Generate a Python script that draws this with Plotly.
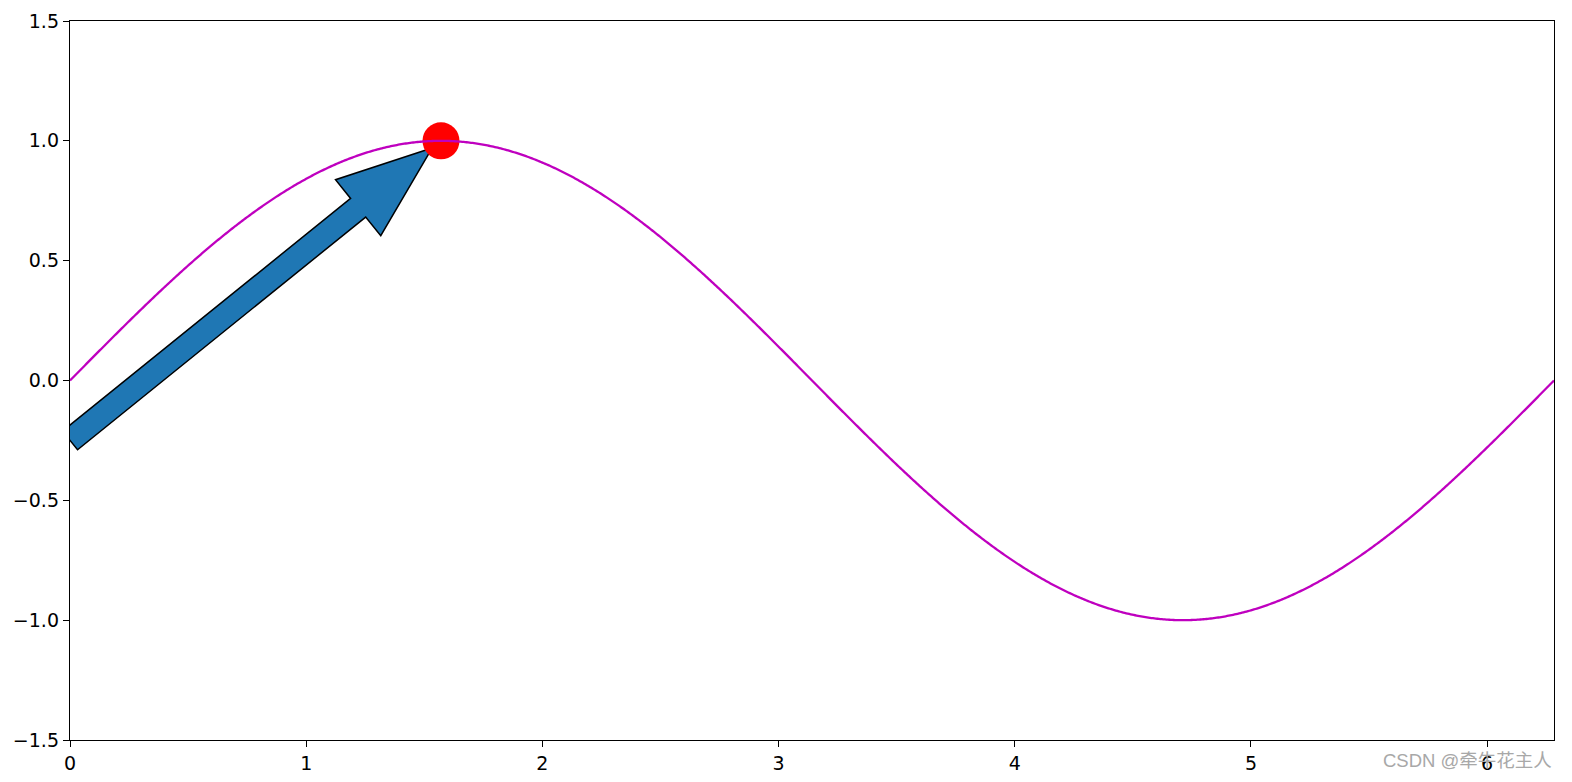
import numpy as np
import plotly.graph_objects as go

# ---- data ----
x_vals = np.linspace(0, 2 * np.pi, 1000)
y_vals = np.sin(x_vals)
point_x = [np.pi / 2]
point_y = [1.0]
arrow_tail = (0.0, -0.25)
arrow_tip = (np.pi / 2, 1.0)
x_ticks = [0, 1, 2, 3, 4, 5, 6]
y_ticks = [-1.5, -1.0, -0.5, 0.0, 0.5, 1.0, 1.5]
watermark = "CSDN @牵牛花主人"

# ---- layout geometry (page body has 8px margin) ----
W, H = 1556, 766
ml, mr, mt, mb = 62, 10, 13, 34
xr = [0, 2 * np.pi]
yr = [-1.5, 1.5]
pw = W - ml - mr
ph = H - mt - mb
sx = pw / (xr[1] - xr[0])
sy = ph / (yr[1] - yr[0])

# arrow polygon computed in pixel space then mapped back to data
S = np.array([arrow_tail[0] * sx, arrow_tail[1] * sy])
T0 = np.array([arrow_tip[0] * sx, arrow_tip[1] * sy])
d = (T0 - S) / np.linalg.norm(T0 - S)
T = T0 - 11.5 * d
n = np.array([-d[1], d[0]])
w, hw, hl = 12.0, 36.0, 95.0
B = T - hl * d
pts = [S + w * n, B + w * n, B + hw * n, T, B - hw * n, B - w * n, S - w * n, S + w * n]
ax = [p[0] / sx for p in pts]
ay = [p[1] / sy for p in pts]

fig = go.Figure()
fig.add_trace(go.Scatter(x=ax, y=ay, mode="lines", fill="toself",
                         fillcolor="#1f77b4", line=dict(color="black", width=1.5),
                         hoverinfo="skip", showlegend=False))
fig.add_trace(go.Scatter(x=point_x, y=point_y, mode="markers",
                         marker=dict(color="red", size=37, line=dict(width=0)),
                         showlegend=False, cliponaxis=False))
fig.add_trace(go.Scatter(x=x_vals, y=y_vals, mode="lines",
                         line=dict(color="#bf00bf", width=2.3, simplify=False),
                         showlegend=False))

axis_common = dict(showline=True, linecolor="black", linewidth=1.4, mirror=True,
                   ticks="outside", ticklen=6, tickwidth=1.4, tickcolor="black",
                   showgrid=False, zeroline=False, automargin=False,
                   tickfont=dict(family="DejaVu Sans", size=19, color="black"))

fig.update_xaxes(range=xr, tickvals=x_ticks, ticktext=[str(t) for t in x_ticks], **axis_common)
fig.update_yaxes(range=yr, tickvals=y_ticks, tickformat=".1f", **axis_common)

fig.add_annotation(text=watermark, xref="paper", yref="paper", x=1.0, y=-0.029,
                   xanchor="right", yanchor="middle", showarrow=False,
                   font=dict(family="Liberation Sans, Noto Sans CJK SC", size=18.5, color="#a8a8a8"))

fig.update_layout(width=W, height=H, margin=dict(l=ml, r=mr, t=mt, b=mb, autoexpand=False),
                  plot_bgcolor="white", paper_bgcolor="white")

fig.write_html("out.html")
